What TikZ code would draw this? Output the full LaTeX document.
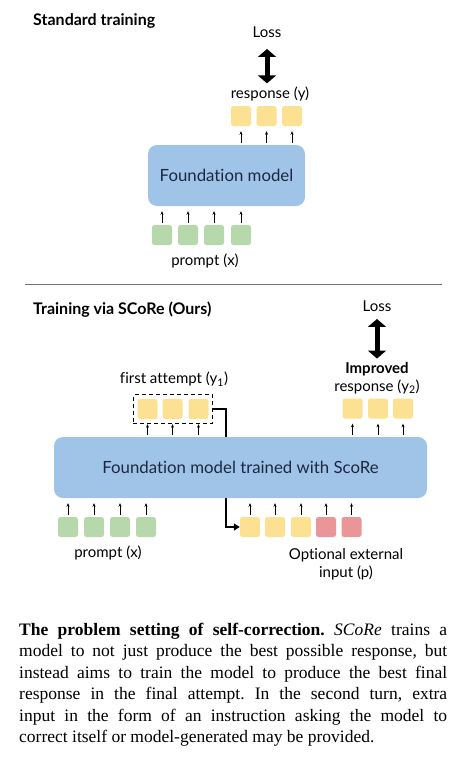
\documentclass[tikz,border=0pt]{standalone}
\usepackage{fontspec}
\setsansfont{Lato}[Ligatures=NoCommon]
\setmainfont{Liberation Serif}
\usetikzlibrary{arrows.meta,fit,positioning}

\definecolor{modelblue}{RGB}{160,196,232}
\definecolor{modeltext}{RGB}{28,40,66}
\definecolor{tokyellow}{RGB}{252,225,146}
\definecolor{tokgreen}{RGB}{183,216,170}
\definecolor{tokred}{RGB}{234,150,152}

\begin{document}
\frenchspacing
\begin{tikzpicture}[x=1pt,y=-1pt,font=\sffamily\fontsize{15}{18}\selectfont,
    tok/.style={rounded corners=2.5pt,minimum size=20pt,inner sep=0pt},
    ytok/.style={tok,fill=tokyellow}, gtok/.style={tok,fill=tokgreen}, rtok/.style={tok,fill=tokred},
    model/.style={fill=modelblue,rounded corners=9pt,text=modeltext,font=\sffamily\fontsize{16.8}{20}\selectfont},
    head/.style={anchor=base west,inner sep=0pt,font=\sffamily\bfseries\fontsize{16}{18}\selectfont},
    up/.style={-{Stealth[length=3.5pt,width=3pt]},line width=0.7pt,shorten <=2pt,shorten >=5pt},
    loss/.style={line width=5pt,{Triangle[length=8pt,width=18pt]}-{Triangle[length=8pt,width=18pt]}},
    link/.style={line width=1.8pt,-{Triangle[length=6pt,width=7pt]}},
    dashbox/.style={draw,line width=1.2pt,dash pattern=on 4pt off 3pt,inner sep=4pt}]
    \useasboundingbox (0,0) rectangle (474,758);

    % standard training
    \node[head] (head1) at (33,25) {Standard training};
    \node (loss1) at (267,32) {Loss};
    \node (resp1) at (270,94) {response (y)};
    \node[ytok] (r1) at (241,116) {};
    \node[ytok] (r2) at (266.5,116) {};
    \node[ytok] (r3) at (292,116) {};
    \node[model,minimum width=157pt,minimum height=61pt] (fm1) at (226.5,175.5) {Foundation model};
    \node[gtok] (x1) at (162,235) {};
    \node[gtok] (x2) at (188,235) {};
    \node[gtok] (x3) at (214,235) {};
    \node[gtok] (x4) at (241,235) {};
    \node (prompt1) at (205,261) {prompt (x)};

    \draw[loss] (loss1.south) ++(0,8) -- (loss1.south |- resp1.north);
    \draw[up] (fm1.north -| r1) -- (r1.south);
    \draw[up] (fm1.north -| r2) -- (r2.south);
    \draw[up] (fm1.north -| r3) -- (r3.south);
    \draw[up] (x1.north) -- (x1 |- fm1.south);
    \draw[up] (x2.north) -- (x2 |- fm1.south);
    \draw[up] (x3.north) -- (x3 |- fm1.south);
    \draw[up] (x4.north) -- (x4 |- fm1.south);

    \draw[black!55,line width=0.8pt] (25,284) -- (442,284);

    % training via SCoRe
    \node[head] (head2) at (33,314) {Training via SCoRe (Ours)};
    \node (loss2) at (377,306) {Loss};
    \node[align=center] (resp2) at (377,378) {\textbf{Improved}\\response (y\textsubscript{2})};
    \node (first) at (174,379) {first attempt (y\textsubscript{1})};
    \node[ytok] (f1) at (147.5,409) {};
    \node[ytok] (f2) at (172.5,409) {};
    \node[ytok] (f3) at (198.5,409) {};
    \node[dashbox,fit=(f1)(f3)] (fa) {};
    \node[ytok] (s1) at (352.5,408.5) {};
    \node[ytok] (s2) at (378,408.5) {};
    \node[ytok] (s3) at (403,408.5) {};
    \node[gtok] (p1) at (68,527) {};
    \node[gtok] (p2) at (94,527) {};
    \node[gtok] (p3) at (120,527) {};
    \node[gtok] (p4) at (146,527) {};
    \node (prompt2) at (108,553) {prompt (x)};
    \node[ytok] (b1) at (250,527) {};
    \node[ytok] (b2) at (275,527) {};
    \node[ytok] (b3) at (301,527) {};
    \node[rtok] (b4) at (326,527) {};
    \node[rtok] (b5) at (351.5,527) {};
    \node[align=center] (ext) at (346,564) {Optional external\\input (p)};

    \draw[link] (fa.east) -| ([xshift=-14pt]b1.west) -- (b1.west);
    \node[model,minimum width=373pt,minimum height=61pt] (fm2) at (240.5,467.5) {Foundation model trained with ScoRe};

    \draw[loss] (loss2.south) ++(0,4) -- (loss2.south |- resp2.north);
    \draw[up] (fm2.north -| f1) -- (f1.south);
    \draw[up] (fm2.north -| f2) -- (f2.south);
    \draw[up] (fm2.north -| f3) -- (f3.south);
    \draw[up] (fm2.north -| s1) -- (s1.south);
    \draw[up] (fm2.north -| s2) -- (s2.south);
    \draw[up] (fm2.north -| s3) -- (s3.south);
    \draw[up] (p1.north) -- (p1 |- fm2.south);
    \draw[up] (p2.north) -- (p2 |- fm2.south);
    \draw[up] (p3.north) -- (p3 |- fm2.south);
    \draw[up] (p4.north) -- (p4 |- fm2.south);
    \draw[up] (b1.north) -- (b1 |- fm2.south);
    \draw[up] (b2.north) -- (b2 |- fm2.south);
    \draw[up] (b3.north) -- (b3 |- fm2.south);
    \draw[up] (b4.north) -- (b4 |- fm2.south);
    \draw[up] (b5.north) -- (b5 |- fm2.south);

    % caption
    \node[anchor=north west,text width=428pt,align=justify,inner sep=0pt,font=\rmfamily\fontsize{17.5}{21.4}\selectfont] (caption) at (19,623)
      {\textbf{The problem setting of self-correction.} \textit{SCoRe} trains a\linebreak
       model to not just produce the best possible response, but\linebreak
       instead aims to train the model to produce the best final\linebreak
       response in the final attempt. In the second turn, extra\linebreak
       input in the form of an instruction asking the model to\linebreak
       correct itself or model-generated may be provided.};
\end{tikzpicture}
\end{document}
